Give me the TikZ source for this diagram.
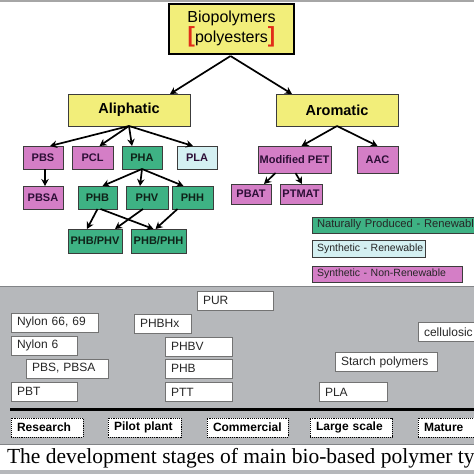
\documentclass[tikz,border=0pt]{standalone}
\usepackage{fontspec}
\setmainfont{Liberation Serif}
\newfontfamily\arial{Liberation Sans}
\usetikzlibrary{arrows.meta,calc}

\definecolor{boxyellow}{RGB}{242,238,122}
\definecolor{boxmag}{RGB}{212,126,198}
\definecolor{boxgreen}{RGB}{62,178,132}
\definecolor{boxcyan}{RGB}{212,240,242}
\definecolor{panelgray}{RGB}{182,184,187}
\definecolor{paneledge}{RGB}{130,132,135}
\definecolor{edgegray}{RGB}{60,60,60}
\definecolor{bracketred}{RGB}{225,45,25}
\definecolor{magtext}{RGB}{45,15,55}
\definecolor{greentext}{RGB}{15,35,25}

\begin{document}
\begin{tikzpicture}[x=1pt,y=-1pt,
  every node/.style={inner sep=0pt, outer sep=0pt},
  cat/.style={draw=edgegray, line width=1pt, fill=boxyellow,
    font=\arial\bfseries\fontsize{14.5}{16}\selectfont, minimum width=122pt, minimum height=32pt},
  poly/.style={draw=edgegray, line width=1pt, font=\arial\bfseries\fontsize{11}{12}\selectfont},
  mag/.style={poly, fill=boxmag, text=magtext},
  grn/.style={poly, fill=boxgreen, text=greentext},
  cyn/.style={poly, fill=boxcyan, text=magtext},
  legend/.style={draw=edgegray, line width=0.9pt, anchor=west, inner xsep=5pt,
    align=left, text=black!85, font=\arial\fontsize{10.5}{12}\selectfont},
  tag/.style={draw=black!55, line width=0.8pt, fill=white, anchor=west, inner xsep=6pt,
    align=left, minimum height=19pt, text=black!85, font=\arial\fontsize{12}{14}\selectfont},
  stage/.style={draw=black, densely dotted, line width=0.9pt, fill=white, anchor=west,
    inner xsep=6pt, align=left, minimum height=19pt, font=\arial\bfseries\fontsize{12}{14}\selectfont},
  link/.style={draw=black, line width=1.7pt, -{Stealth[length=7pt,width=7.5pt]}}
]
\clip (0,0) rectangle (474,474);
\fill[white] (0,0) rectangle (474,474);

% frame bands
\fill[black!35] (0,0) rectangle (474,2);
\fill[panelgray] (0,286) rectangle (474,445);
\draw[paneledge, line width=1.5pt] (0,286.5) -- (474,286.5);
\draw[paneledge, line width=1.2pt] (0,444.5) -- (474,444.5);
\fill[panelgray] (0,470) rectangle (474,474);

% ---- classification tree ----
\node[draw=black, line width=1.8pt, fill=boxyellow, minimum width=125pt, minimum height=50pt,
  align=center, font=\arial\fontsize{16}{17}\selectfont] (bio) at (231.5,29)
  {Biopolymers\\[-1pt]{\color{bracketred}\bfseries\fontsize{22}{22}\selectfont[}polyesters{\color{bracketred}\bfseries\fontsize{22}{22}\selectfont]}};

\node[cat] (aliph) at (129,110) {Aliphatic};
\node[cat] (arom)  at (337,110) {Aromatic};

\node[mag, minimum width=40pt, minimum height=23pt] (pbs) at (43,157.5) {PBS};
\node[mag, minimum width=41pt, minimum height=23pt] (pcl) at (92.5,157.5) {PCL};
\node[grn, minimum width=40pt, minimum height=23pt] (pha) at (142,157.5) {PHA};
\node[cyn, minimum width=40pt, minimum height=23pt] (pla) at (197,157.5) {PLA};
\node[mag, minimum width=73pt, minimum height=27pt] (mpet) at (294.5,159.5) {Modified PET};
\node[mag, minimum width=41pt, minimum height=27pt] (aac) at (377.5,159.5) {AAC};

\node[mag, minimum width=40pt, minimum height=23pt] (pbsa) at (43,197.5) {PBSA};
\node[grn, minimum width=39pt, minimum height=23pt] (phb) at (97.5,197.5) {PHB};
\node[grn, minimum width=42pt, minimum height=23pt] (phv) at (147,197.5) {PHV};
\node[grn, minimum width=41pt, minimum height=23pt] (phh) at (192.5,197.5) {PHH};
\node[mag, minimum width=40pt, minimum height=20pt] (pbat) at (251,194) {PBAT};
\node[mag, minimum width=42pt, minimum height=20pt] (ptmat) at (301,194) {PTMAT};

\node[grn, minimum width=54pt, minimum height=24pt] (pv) at (95,241) {PHB/PHV};
\node[grn, minimum width=55pt, minimum height=24pt] (ph) at (158.5,241) {PHB/PHH};

% connectors
\draw[link] ($(bio.south)+(-1,2)$) -- ($(aliph.north)+(41,0)$);
\draw[link] ($(bio.south)+(-1,2)$) -- ($(arom.north)+(-45,0)$);

\draw[link] (aliph.south) -- ($(pbs.north)+(7,0)$);
\draw[link] (aliph.south) -- ($(pcl.north)+(7,0)$);
\draw[link] (aliph.south) -- ($(pha.north)+(-10,0)$);
\draw[link] (aliph.south) -- ($(pla.north)+(-4,0)$);

\draw[link] (arom.south) -- ($(mpet.north)+(7,0)$);
\draw[link] (arom.south) -- (aac.north);

\draw[link] ($(pbs.south)+(2,0)$) -- ($(pbsa.north)+(2,0)$);

\draw[link] (pha.south) -- ($(phb.north)+(5,0)$);
\draw[link] (pha.south) -- ($(phv.north)+(-7,0)$);
\draw[link] (pha.south) -- ($(phh.north)+(-9,0)$);

\draw[link] ($(mpet.south)+(-19,0)$) -- ($(pbat.north)+(13,0)$);
\draw[link] ($(mpet.south)+(1,0)$) -- ($(ptmat.north)+(1,0)$);

\draw[link] (phb.south) -- ($(pv.north)+(-8,0)$);
\draw[link] ($(phb.south)+(3,0)$) -- ($(ph.north)+(-5,0)$);
\draw[link] ($(phv.south)+(-4,0)$) -- ($(pv.north)+(20,0)$);
\draw[link] ($(phh.south)+(-15,0)$) -- ($(ph.north)+(-3,0)$);

% legend
\node[legend, fill=boxgreen, text width=168pt, minimum height=16pt, font=\arial\fontsize{11.2}{12}\selectfont] (lgnat) at (312,225) {\mbox{Naturally Produced - Renewable}};
\node[legend, fill=boxcyan, text width=103pt, minimum height=17pt] (lgsr) at (312,248.5) {\mbox{Synthetic - Renewable}};
\node[legend, fill=boxmag, text width=140pt, minimum height=16pt] (lgsn) at (312,274) {\mbox{Synthetic - Non-Renewable}};

% ---- development stages panel ----
\node[tag, text width=64pt] (pur) at (197,300.5) {PUR};
\node[tag, text width=75pt] (ny66) at (11,322.5) {Nylon 66, 69};
\node[tag, text width=45pt] (phbhx) at (134,323.5) {PHBHx};
\node[tag, text width=54pt] (ny6) at (11,345.5) {Nylon 6};
\node[tag, text width=55pt] (phbv) at (165,346.5) {PHBV};
\node[tag, text width=70pt] (pbspbsa) at (26,368.5) {PBS, PBSA};
\node[tag, text width=55pt] (phbd) at (165,368.5) {PHB};
\node[tag, text width=54pt] (pbt) at (11,391.5) {PBT};
\node[tag, text width=55pt] (ptt) at (165,392) {PTT};
\node[tag, text width=60pt] (cell) at (418,332) {cellulosic};
\node[tag, text width=90pt] (starch) at (335,362) {Starch polymers};
\node[tag, text width=56pt] (plad) at (319,392) {PLA};

\coordinate (axisL) at (10,409.5);
\coordinate (axisR) at (474,409.5);
\draw[black, line width=2.6pt] (axisL) -- (axisR);

\node[stage, text width=60pt] (research) at (11,427.5) {Research};
\node[stage, text width=61pt] (pilot) at (108,427.5) {Pilot plant};
\node[stage, text width=69pt] (commercial) at (207,427.5) {Commercial};
\node[stage, text width=70pt] (large) at (310,427.5) {Large scale};
\node[stage, text width=60pt] (mature) at (418,427.5) {Mature};

% caption strip
\node[anchor=base west, font=\fontsize{21.5}{24}\selectfont] (caption) at (7,463.5)
  {The development stages of main bio-based polymer ty};
\end{tikzpicture}
\end{document}
